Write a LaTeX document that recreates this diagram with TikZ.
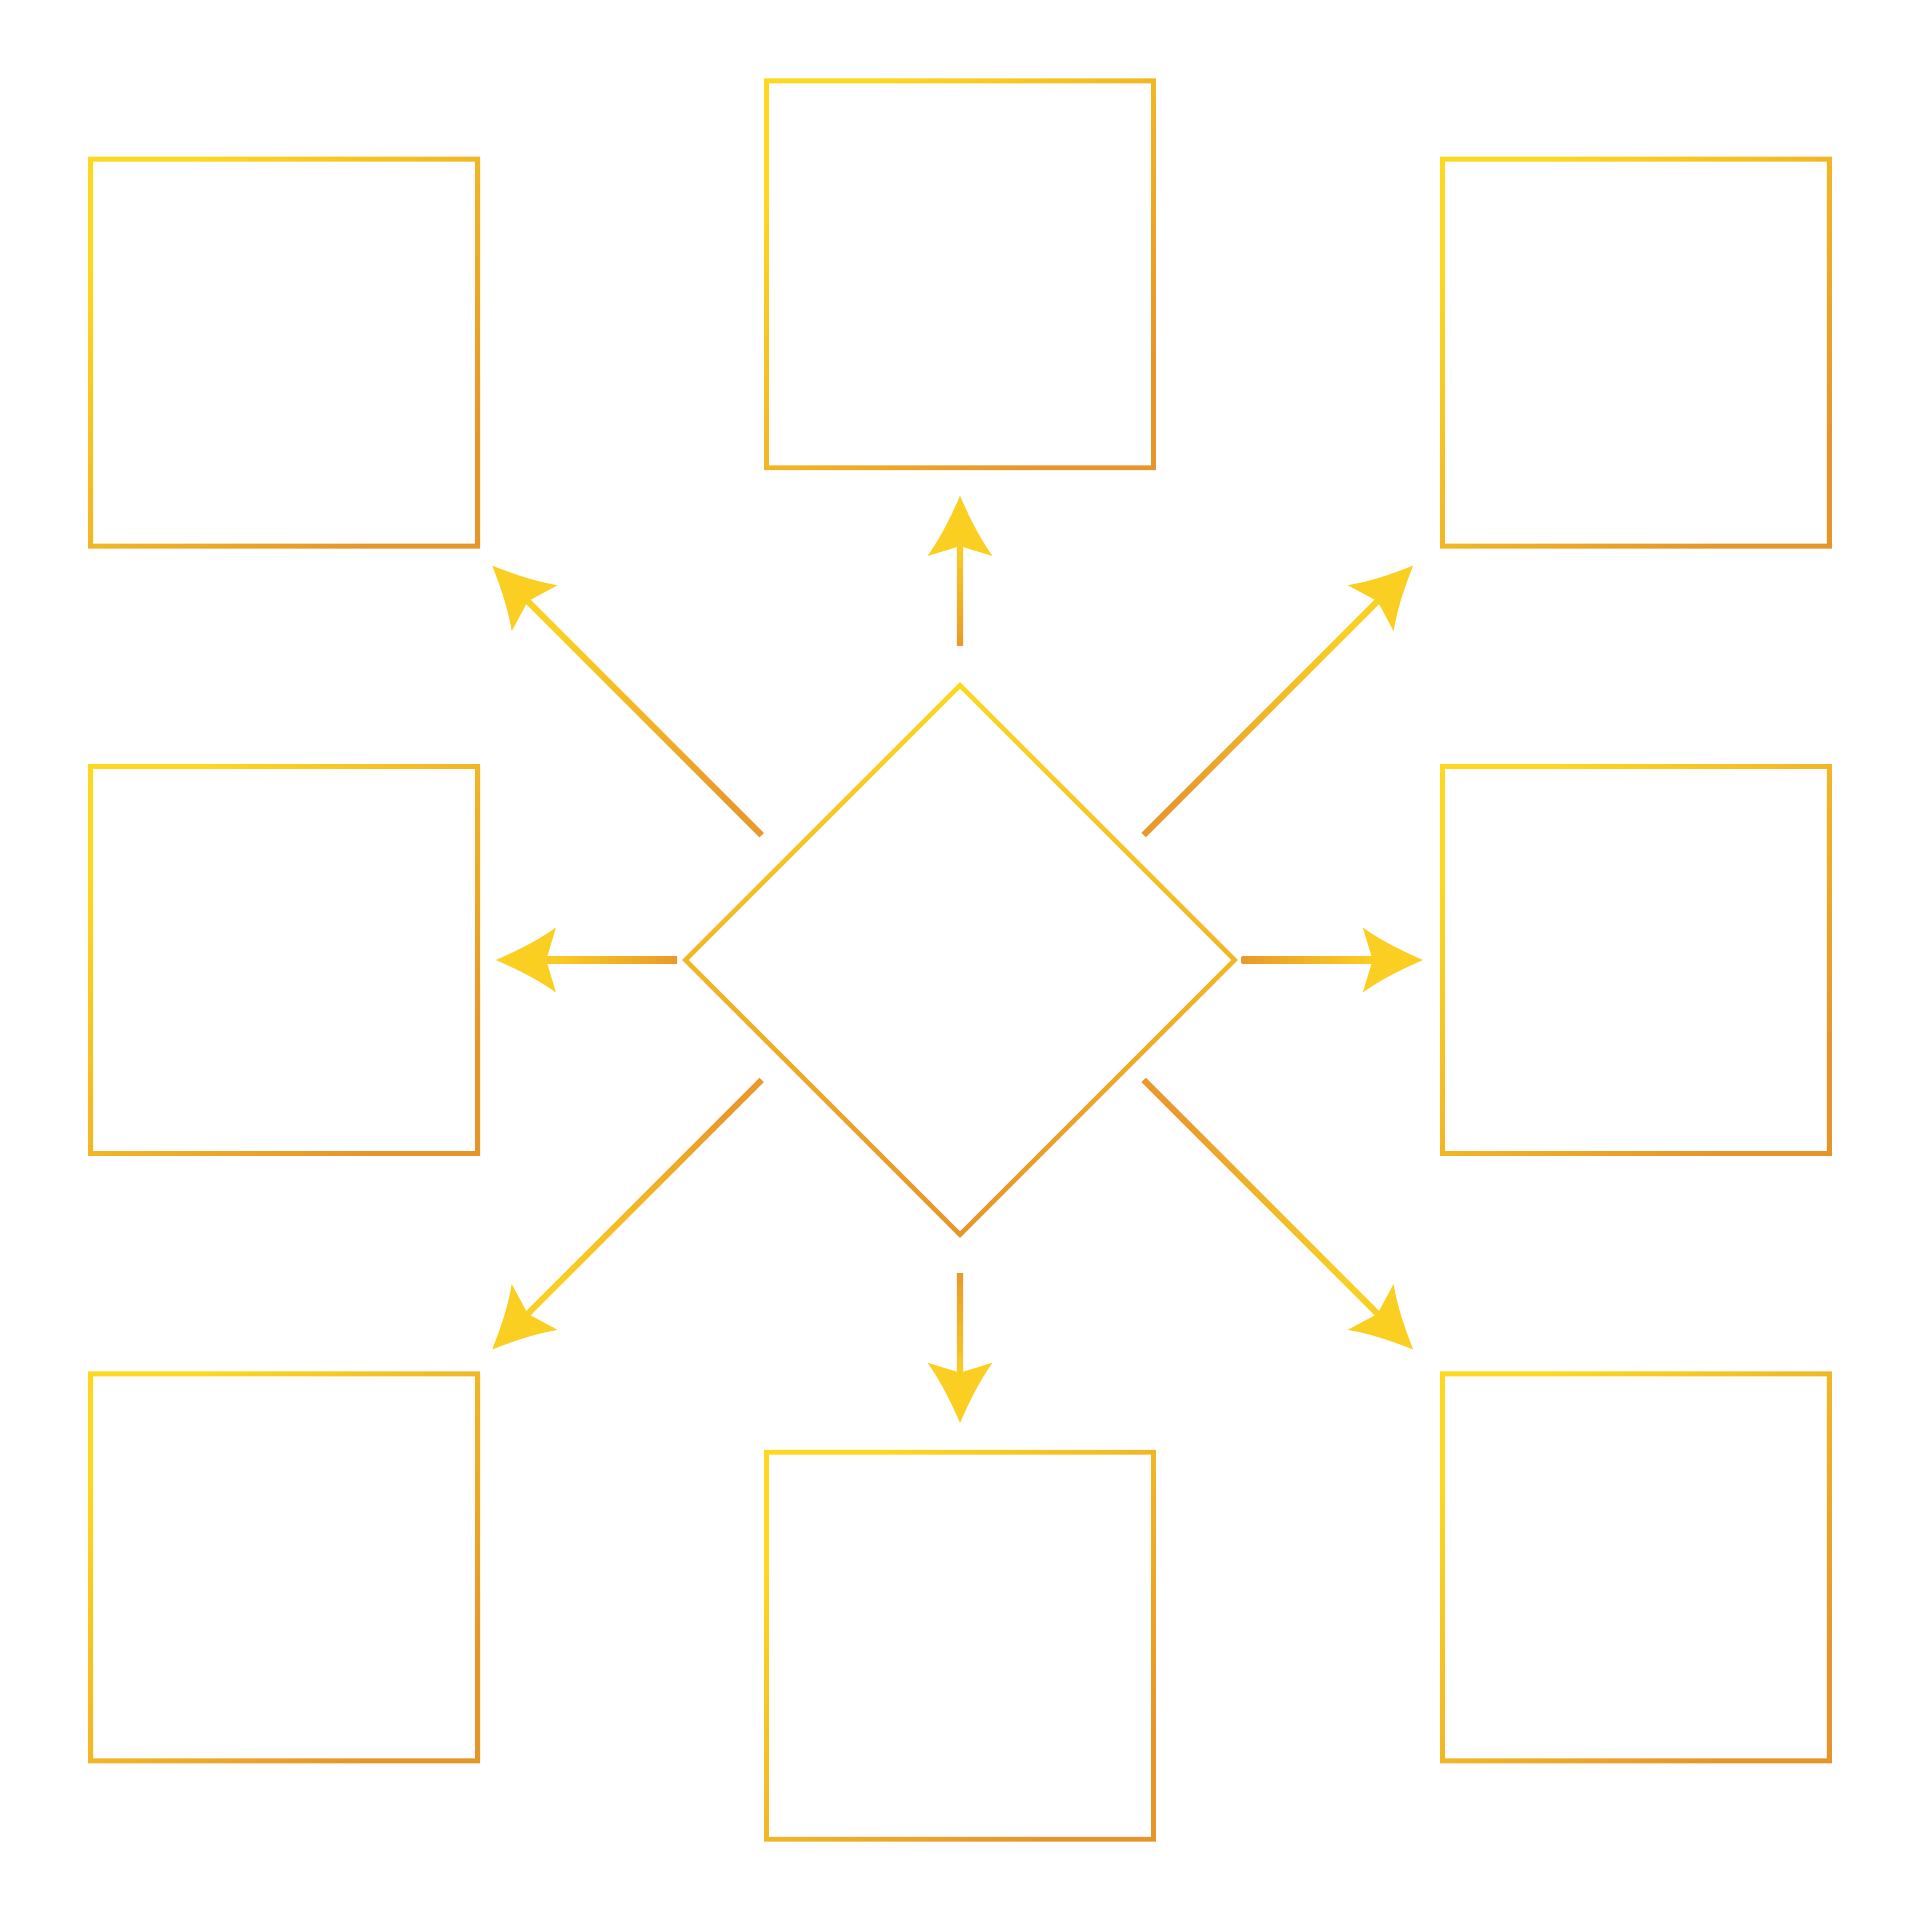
\documentclass[tikz,border=0pt]{standalone}
\usetikzlibrary{calc,shapes.geometric}
\definecolor{gy}{HTML}{FDD720}
\definecolor{go}{HTML}{E6952B}
\definecolor{hy}{HTML}{FBCF22}
\definecolor{ao}{HTML}{E99A2B}
\tikzset{
  boxnode/.style={rectangle, minimum width=320pt, minimum height=320pt, inner sep=0pt, outer sep=0pt},
  hubnode/.style={diamond, aspect=1, minimum width=454pt, minimum height=454pt, inner sep=0pt, outer sep=0pt},
  framegrad/.style={even odd rule, top color=gy, bottom color=go, shading angle=45},
  hubgrad/.style={even odd rule, top color=gy, bottom color=go, shading angle=0},
  gradhead/.pic={\fill[hy] (0,0) .. controls (-16,7) and (-33,15) .. (-49,26.5) -- (-41,0) -- (-49,-26.5) .. controls (-33,-15) and (-16,-7) .. (0,0) -- cycle;}
}
\newcommand\gframe[1]{%
  \shade[framegrad] (#1.north west) rectangle (#1.south east)
    ([shift={(4,4)}]#1.north west) rectangle ([shift={(-4,-4)}]#1.south east);}
\newcommand\garrow[3]{%
  \path ($(#2)!38pt!(#1)$) coordinate (#2e);
  \shade[top color=hy, bottom color=ao, shading angle=#3-90]
    ($(#1)!2.5pt!90:(#2e)$) -- ($(#1)!2.5pt!-90:(#2e)$) --
    ($(#2e)!2.5pt!90:(#1)$) -- ($(#2e)!2.5pt!-90:(#1)$) -- cycle;
  \pic[rotate=#3] at (#2) {gradhead};}
\begin{document}
\begin{tikzpicture}[x=1pt,y=-1pt]
\useasboundingbox (0,0) rectangle (1568,1568);
% boxes
\node[boxnode] (tl) at (232,288) {};
\node[boxnode] (t)  at (784,224) {};
\node[boxnode] (tr) at (1336,288) {};
\node[boxnode] (l)  at (232,784) {};
\node[boxnode] (r)  at (1336,784) {};
\node[boxnode] (bl) at (232,1280) {};
\node[boxnode] (b)  at (784,1344) {};
\node[boxnode] (br) at (1336,1280) {};
\foreach \n in {tl,t,tr,l,r,bl,b,br} {\gframe{\n}}
% hub
\node[hubnode] (c) at (784,784) {};
\shade[hubgrad] (c.north) -- (c.east) -- (c.south) -- (c.west) -- cycle
  ($(c.north)+(0,5.4)$) -- ($(c.east)+(-5.4,0)$) -- ($(c.south)+(0,-5.4)$) -- ($(c.west)+(5.4,0)$) -- cycle;
% arrow ends
\coordinate (uT) at (784,527);   \coordinate (uP) at (784,405);
\coordinate (dT) at (784,1040);  \coordinate (dP) at (784,1162);
\coordinate (lT) at (553,784);   \coordinate (lP) at (405,784);
\coordinate (rT) at (1014,784);  \coordinate (rP) at (1162,784);
\coordinate (ulT) at (622,682);  \coordinate (ulP) at (402,462);
\coordinate (urT) at (934,682);  \coordinate (urP) at (1154,462);
\coordinate (llT) at (622,882);  \coordinate (llP) at (402,1102);
\coordinate (lrT) at (934,882);  \coordinate (lrP) at (1154,1102);
\garrow{uT}{uP}{90}
\garrow{dT}{dP}{270}
\garrow{lT}{lP}{180}
\garrow{rT}{rP}{0}
\garrow{ulT}{ulP}{135}
\garrow{urT}{urP}{45}
\garrow{llT}{llP}{225}
\garrow{lrT}{lrP}{315}
\end{tikzpicture}
\end{document}
